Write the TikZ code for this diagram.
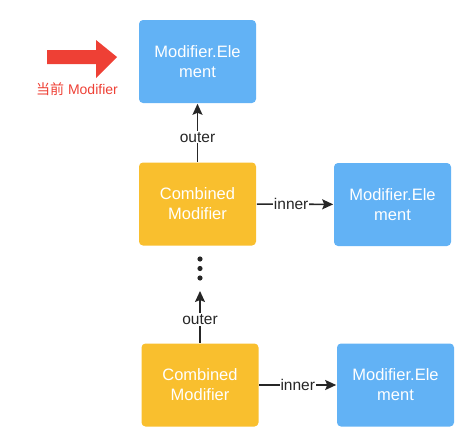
\documentclass[tikz,border=0pt]{standalone}
\usepackage{fontspec}
\setmainfont{Liberation Sans}
\newfontfamily\cjk{Noto Sans CJK SC}
\usepackage{tikz}
\usetikzlibrary{arrows.meta}

\definecolor{elemblue}{HTML}{62B2F5}
\definecolor{combyellow}{HTML}{F9BF2E}
\definecolor{curred}{HTML}{EE4035}

\begin{document}
\begin{tikzpicture}[x = 1pt, y = -1pt, line width = 1.6pt,
                        element/.style = {rectangle, rounded corners = 4pt, fill = elemblue, text = white,
                                          minimum width = 117pt, minimum height = 83pt, align = center,
                                          font = \fontsize{16.5}{20}\selectfont},
                        combined/.style = {element, fill = combyellow},
                        link/.style = {draw = black!85, -{Stealth[length = 11pt, width = 10pt, inset = 2pt]}},
                        lbl/.style = {fill = white, inner sep = 1pt, text = black!85,
                                      font = \fontsize{15.5}{18}\selectfont}]
      \useasboundingbox (0, 0) rectangle (474, 447);
      \node [element] (e1) at (197.5, 61.5){Modifier.Ele\\ment};
      \node [combined] (c1) at (197.5, 204){Combined\\Modifier};
      \node [element] (e2) at (392.5, 204.5){Modifier.Ele\\ment};
      \node [combined] (c2) at (200, 385){Combined\\Modifier};
      \node [element] (e3) at (395.5, 385){Modifier.Ele\\ment};
      \coordinate (dots) at (200, 291);
      \draw [link] (c1) -- node [lbl, pos = 0.42]{outer} (e1);
      \draw [link] (c1) -- node [lbl, pos = 0.45]{inner} (e2);
      \draw [link] (c2) -- node [lbl, pos = 0.45]{outer} (dots);
      \draw [link] (c2) -- node [lbl, pos = 0.5]{inner} (e3);
      % dots between the two levels
      \foreach \y in {259, 268.5, 278}
        \fill [black!85] (200, \y) circle (2.6pt);
      % current modifier marker
      \fill [curred] (47, 50) -- (96, 50) -- (96, 40) -- (117, 57) -- (96, 78) -- (96, 64) -- (47, 64) -- cycle;
      \node [text = curred, font = \fontsize{14}{16}\selectfont] (cur) at (77, 89){{\cjk 当前} Modifier};

      \end{tikzpicture}
\end{document}
